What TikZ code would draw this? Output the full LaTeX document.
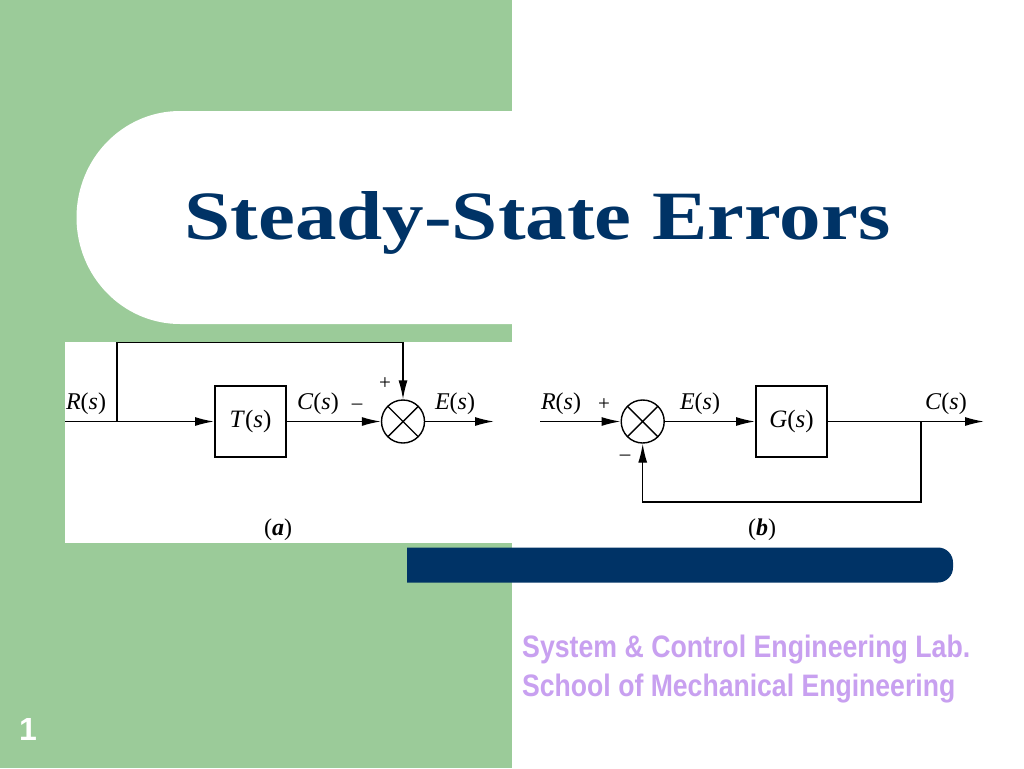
\documentclass[tikz,border=0pt]{standalone}
\usepackage{fontspec}
\setmainfont{Liberation Serif}
\newfontfamily\labfont{Liberation Sans}
\usepackage{graphicx}
\usetikzlibrary{positioning,arrows.meta}
\definecolor{slidegreen}{RGB}{155,203,153}
\definecolor{titleblue}{RGB}{0,51,102}
\definecolor{labpurple}{RGB}{200,160,240}

\begin{document}
\begin{tikzpicture}[
    x=1pt, y=-1pt,
    block/.style={rectangle, draw, line width=2pt, minimum width=71pt, minimum height=71pt, font=\fontsize{25}{25}\selectfont},
    sumj/.style={circle, draw, line width=1.4pt, minimum size=43pt, inner sep=0pt,
        path picture={\draw[line width=1.4pt] (path picture bounding box.north west) -- (path picture bounding box.south east)
            (path picture bounding box.north east) -- (path picture bounding box.south west);}},
    sig/.style={font=\fontsize{24}{24}\selectfont, inner sep=0pt},
    sign/.style={font=\fontsize{21}{21}\selectfont, inner sep=0pt},
    arrow/.style={-{Latex[length=19pt,width=9pt]}, line width=1.4pt}
]
\useasboundingbox (0,0) rectangle (1024,768);
% Slide background
\fill[slidegreen] (0,0) rectangle (512,768);
\fill[white] (512,0) rectangle (1024,768);
\fill[white] (512,111) -- (180,111) arc[start angle=90, end angle=270, x radius=103.5pt, y radius=106.5pt] -- (512,324) -- cycle;
\fill[white] (65,342) rectangle (512,543);
\fill[titleblue] (407,547.5) [rounded corners=15pt] -- (953,547.5) -- (953,582.5) [sharp corners] -- (407,582.5) -- cycle;
% Title
\node[anchor=base, text=titleblue, inner sep=0pt] (title) at (537.5,239) {\resizebox{706pt}{48pt}{\bfseries Steady-State Errors}};
% Diagram (a)
\coordinate (ina) at (65,421.5);
\coordinate (bra) at (117,421.5);
\node[block] (T) at (250.5,421.5) {\textit{T}(\textit{s})};
\node[sumj] (sa) at (403,421.5) {};
\coordinate (topa) at (403,342.5);
\coordinate (outa) at (494,421.5);
\draw[arrow] (ina) -- (T);
\draw[arrow] (bra) |- (topa) -- (sa);
\draw[arrow] (T) -- (sa);
\draw[arrow] (sa) -- (outa);
\node[sig] (Rla) at (86,404) {\textit{R}(\textit{s})};
\node[sig] (Cla) at (318,404) {\textit{C}(\textit{s})};
\node[sign] (mina) at (357,407) {\textendash};
\node[sign] (plsa) at (385,384) {+};
\node[sig] (Ela) at (455,404) {\textit{E}(\textit{s})};
\node[sig] (capa) at (278,530) {(\textbf{\textit{a}})};
% Diagram (b)
\coordinate (inb) at (540,421.5);
\node[sumj] (sb) at (642.7,421.5) {};
\node[block] (G) at (791.5,421.5) {\textit{G}(\textit{s})};
\coordinate (brb) at (921,421.5);
\coordinate (outb) at (984,421.5);
\coordinate (fbr) at (921,502);
\coordinate (fbl) at (642.7,502);
\draw[arrow] (inb) -- (sb);
\draw[arrow] (sb) -- (G);
\draw[arrow] (G) -- (outb);
\draw[arrow] (brb) -- (fbr) -- (fbl) -- (sb);
\node[sig] (Rlb) at (561,404) {\textit{R}(\textit{s})};
\node[sign] (plsb) at (604,405) {+};
\node[sig] (Elb) at (700,404) {\textit{E}(\textit{s})};
\node[sig] (Clb) at (946,404) {\textit{C}(\textit{s})};
\node[sign] (minb) at (625,458) {\textendash};
\node[sig] (capb) at (762,530) {(\textbf{\textit{b}})};
% Lab name and page number
\node[anchor=base west, text=labpurple, inner sep=0pt] (lab) at (522,657) {\resizebox{448pt}{22.5pt}{\labfont\bfseries System \& Control Engineering Lab.}};
\node[anchor=base west, text=labpurple, inner sep=0pt] (school) at (522,696) {\resizebox{433pt}{22.5pt}{\labfont\bfseries School of Mechanical Engineering}};
\node[text=white, font=\labfont\bfseries\fontsize{32}{32}\selectfont, inner sep=0pt] (pagenum) at (28,729) {1};
\end{tikzpicture}
\end{document}
